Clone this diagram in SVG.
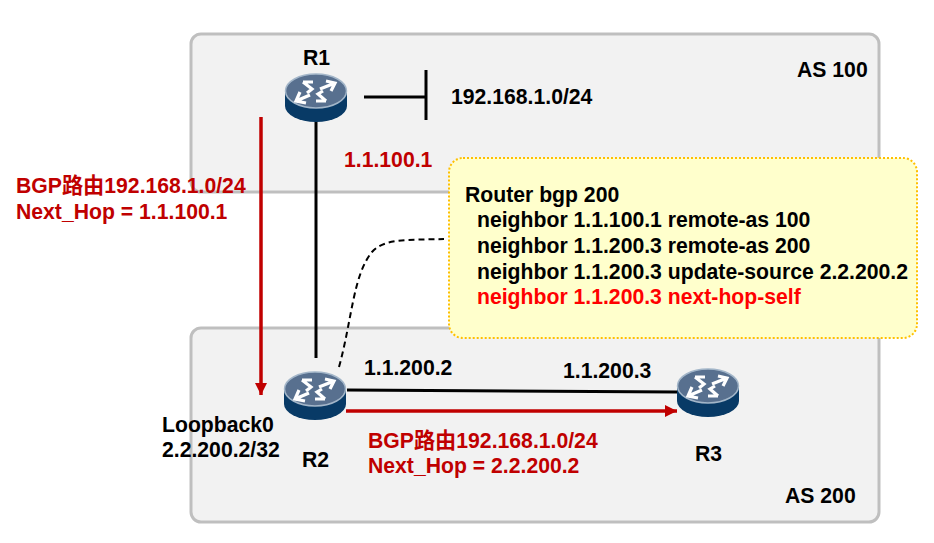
<svg xmlns="http://www.w3.org/2000/svg" xmlns:xlink="http://www.w3.org/1999/xlink" width="934" height="543" viewBox="0 0 934 543">
<style>
text{font-family:"Liberation Sans","Noto Sans CJK SC",sans-serif;font-size:21.2px;font-weight:700;fill:#000}
.r{fill:#c00000}
.as{fill:#f2f2f2;stroke:#bfbfbf;stroke-width:3}
.l{fill:none;stroke:#000;stroke-width:3}
.a{fill:none;stroke:#c00000;stroke-width:3.500}
</style>
<defs>
<marker id="ah" markerUnits="userSpaceOnUse" markerWidth="13" markerHeight="14" refX="12" refY="7" orient="auto"><path d="M0,1L12,7L0,13Z" fill="#c00000"/></marker>
<g id="router">
<path d="M-31,-6V9A31,16 0 0 0 31,9V-6Z" fill="#083a66"/>
<ellipse cx="0" cy="-6" rx="30.500" ry="17" fill="#58708f" stroke="#a3b6c9" stroke-width="1.500"/>
<g fill="none" stroke="#fff" stroke-width="3.200">
<path d="M4,-8L19,-14M10,-16L19,-14L15,-6"/>
<path d="M-6,-2L-20,4M-16,-5L-20,4L-10,6"/>
<path d="M-13,-15L-4,-8L-9,-4M-13,-15H-3"/>
<path d="M10,4L2,-3L7,-6M10,4H0"/>
</g>
</g>
</defs>
<g id="as100"><rect class="as" x="191" y="34" width="688" height="158" rx="10"/><text x="797" y="77">AS 100</text></g>
<g id="as200"><rect class="as" x="191" y="328" width="688" height="194" rx="10"/><text x="785" y="503">AS 200</text></g>
<g id="connectors">
<path class="l" d="M316,121V358"/>
<path class="l" d="M364,97H426M426,70V120"/>
<path class="l" d="M347,390L677,392"/>
<path d="M339,367C352,320 353,275 372,252C384,238 410,240 444,239" fill="none" stroke="#000" stroke-width="2" stroke-dasharray="6 4"/>
<path class="a" d="M261,117V395" marker-end="url(#ah)"/>
<path class="a" d="M346,411H677" marker-end="url(#ah)"/>
</g>
<g id="R1"><use xlink:href="#router" href="#router" x="316" y="97"/><text x="303" y="65">R1</text></g>
<g id="R2"><use xlink:href="#router" href="#router" x="315" y="395"/><text x="302" y="467">R2</text></g>
<g id="R3"><use xlink:href="#router" href="#router" x="708" y="392"/><text x="695" y="461">R3</text></g>
<g id="note">
<rect x="449" y="158" width="468" height="180" rx="14" fill="#ffffcc" stroke="#ffc000" stroke-width="2" stroke-dasharray="2 2"/>
<text x="465" y="202">Router bgp 200</text>
<text x="477" y="227">neighbor 1.1.100.1 remote-as 100</text>
<text x="477" y="253">neighbor 1.1.200.3 remote-as 200</text>
<text x="477" y="279">neighbor 1.1.200.3 update-source 2.2.200.2</text>
<text x="477" y="304" style="fill:#f00">neighbor 1.1.200.3 next-hop-self</text>
</g>
<g id="labels">
<text x="451" y="104">192.168.1.0/24</text>
<text class="r" x="344" y="167">1.1.100.1</text>
<text class="r" x="16" y="193">BGP路由192.168.1.0/24</text>
<text class="r" x="16" y="219">Next_Hop = 1.1.100.1</text>
<text x="364" y="375">1.1.200.2</text>
<text x="563" y="378">1.1.200.3</text>
<text x="162" y="432">Loopback0</text>
<text x="162" y="457">2.2.200.2/32</text>
<text class="r" x="368" y="448">BGP路由192.168.1.0/24</text>
<text class="r" x="368" y="473">Next_Hop = 2.2.200.2</text>
</g>
</svg>
